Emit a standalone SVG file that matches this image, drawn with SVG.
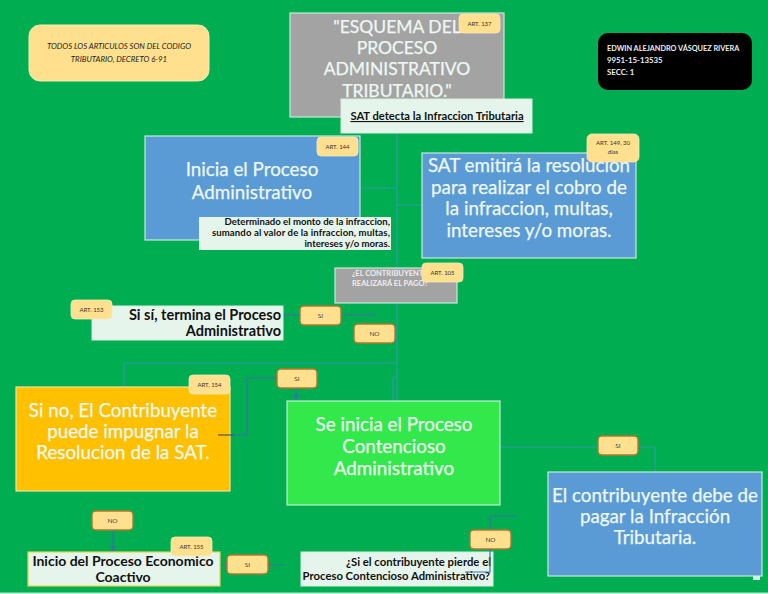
<svg xmlns="http://www.w3.org/2000/svg" width="768" height="594" viewBox="0 0 768 594">
<style>
text{font-family:"Lato","Open Sans","Liberation Sans",sans-serif}
.c{fill:none;stroke:#2e9aa8;stroke-width:1.2}
.b{fill:none;stroke:#3a72b0;stroke-width:1.2}
.box{stroke:#c5ecd8;stroke-width:1.2}
.w{fill:#eef8f3;font-size:18.800px;text-anchor:middle;stroke:#eef8f3;stroke-width:.25}
.lt{fill:#e6f5ec}
.k{fill:#111;font-weight:700}
.tag{fill:#ffe08e;stroke:#f5eab8;stroke-width:.8}
.tt{fill:#333;font-size:6px;text-anchor:middle}
.pill{fill:#ffe08e;stroke:#b5762a;stroke-width:1.4}
.pt{fill:#444;font-size:6.500px;text-anchor:middle}
</style>
<rect width="768" height="594" fill="#00ad50"/>
<g id="connectors">
<path class="c" d="M397 118V420M360 188H397M397 205H422"/>
<path class="c" d="M397 363H124V387M393 420V377H397"/>
<path class="c" d="M500 447H655V472"/>
<path class="b" d="M283 315H300M341 315H375"/>
<path class="b" d="M218 435H247V378H277M296 389V401"/>
<path class="b" d="M113 530V552M208 565H227M268 565H283"/>
<path class="b" d="M490 530V516H517"/>
<path fill="#3a72b0" d="M272 312l-6 3 6 3zM293 395h6l-3 5zM110 546h6l-3 5z"/>
</g>
<g id="nota">
<rect x="29" y="25" width="180" height="56" rx="11" fill="#ffe08e" stroke="#f5eab8"/>
<text font-size="7.800" font-style="italic" fill="#222" text-anchor="middle"><tspan x="119" y="49">TODOS LOS ARTICULOS SON DEL CODIGO</tspan><tspan x="119" y="62">TRIBUTARIO, DECRETO 6-91</tspan></text>
</g>
<g id="autor">
<rect x="598" y="33" width="154" height="57" rx="10" fill="#000"/>
<text font-size="7.800" font-weight="700" fill="#eee"><tspan x="607" y="51" font-size="7.300">EDWIN ALEJANDRO  VÁSQUEZ RIVERA</tspan><tspan x="607" y="63">9951-15-13535</tspan><tspan x="607" y="75">SECC: 1</tspan></text>
</g>
<g id="titulo">
<rect class="box" x="290" y="13" width="214" height="104" fill="#a3a3a3"/>
<text class="w" style="font-size:17.500px"><tspan x="397" y="33">"ESQUEMA DEL</tspan><tspan x="397" y="54">PROCESO</tspan><tspan x="397" y="75">ADMINISTRATIVO</tspan><tspan x="397" y="97">TRIBUTARIO."</tspan></text>
<rect class="tag" x="459" y="14" width="41" height="19" rx="4"/><text class="tt" x="479.500" y="25.500">ART. 137</text>
</g>
<g id="detecta">
<rect class="lt" x="341" y="99" width="191" height="34" stroke="#d5f0e0"/>
<text x="437" y="120" font-size="11.200" font-weight="700" fill="#111" text-anchor="middle" text-decoration="underline">SAT  detecta la Infraccion Tributaria</text>
</g>
<g id="inicia">
<rect class="box" x="145" y="136" width="215" height="104" fill="#5b9bd5"/>
<text class="w"><tspan x="252" y="176">Inicia el Proceso</tspan><tspan x="252" y="199">Administrativo</tspan></text>
<rect class="tag" x="317" y="137" width="41" height="19" rx="4"/><text class="tt" x="337.500" y="149">ART. 144</text>
<rect class="lt" x="199" y="217" width="192" height="33"/>
<text class="k" font-size="9.600" text-anchor="end"><tspan x="390" y="225">Determinado el monto de la infraccion,</tspan><tspan x="390" y="236" letter-spacing=".1">sumando al valor de la infraccion, multas,</tspan><tspan x="390" y="247">intereses y/o moras.</tspan></text>
</g>
<g id="emitira">
<rect class="box" x="422" y="153" width="214" height="105" fill="#5b9bd5"/>
<text class="w"><tspan x="529" y="172">SAT emitirá la resolucion</tspan><tspan x="529" y="194">para realizar el cobro de</tspan><tspan x="529" y="215">la infraccion, multas,</tspan><tspan x="529" y="237">intereses y/o moras.</tspan></text>
<rect class="tag" x="587" y="134" width="52" height="28" rx="5"/><text class="tt"><tspan x="613" y="145">ART. 149, 30</tspan><tspan x="613" y="154">dias</tspan></text>
</g>
<g id="pago">
<rect class="box" x="335" y="268" width="122" height="35" fill="#a3a3a3"/>
<text font-size="7.500" font-weight="700" fill="#eee"><tspan x="352" y="276">¿EL CONTRIBUYENTE</tspan><tspan x="352" y="286">REALIZARÁ EL PAGO?</tspan></text>
<rect class="tag" x="422" y="263" width="41" height="19" rx="4"/><text class="tt" x="442.500" y="274.500">ART. 105</text>
</g>
<g id="termina">
<rect class="lt" x="92" y="306" width="191" height="34" stroke="#d5f0e0"/>
<text class="k" font-size="14.500" text-anchor="end"><tspan x="281" y="320">Si sí, termina el Proceso</tspan><tspan x="281" y="336">Administrativo</tspan></text>
<rect class="tag" x="71" y="300" width="41" height="19" rx="4"/><text class="tt" x="91.500" y="311.500">ART. 153</text>
</g>
<g id="si1"><rect class="pill" x="300" y="306" width="41" height="19" rx="4"/><text class="pt" x="320.500" y="317.500">SI</text></g>
<g id="no1"><rect class="pill" x="354" y="324" width="41" height="19" rx="4"/><text class="pt" x="374.500" y="335.500">NO</text></g>
<g id="impugnar">
<rect x="16" y="387" width="214" height="104" fill="#ffc000" stroke="#f5e3a0" stroke-width="1.200"/>
<text class="w"><tspan x="123" y="417">Si no, El Contribuyente</tspan><tspan x="123" y="438">puede impugnar la</tspan><tspan x="123" y="459">Resolucion de la SAT.</tspan></text>
<rect class="tag" x="189" y="375" width="41" height="19" rx="4"/><text class="tt" x="209.500" y="386.500">ART. 154</text>
<path d="M218 435H234" stroke="#555" stroke-width="1.200"/>
</g>
<g id="si2"><rect class="pill" x="277" y="369" width="40" height="19" rx="4"/><text class="pt" x="297" y="380.500">SI</text></g>
<g id="contencioso">
<rect class="box" x="287" y="401" width="213" height="104" fill="#33e84a"/>
<text class="w"><tspan x="394" y="431">Se inicia el Proceso</tspan><tspan x="394" y="453">Contencioso</tspan><tspan x="394" y="475">Administrativo</tspan></text>
</g>
<g id="si3"><rect class="pill" x="598" y="436" width="40" height="19" rx="4"/><text class="pt" x="618" y="447.500">SI</text></g>
<g id="pagar">
<rect class="box" x="548" y="472" width="214" height="104" fill="#5b9bd5"/>
<text class="w"><tspan x="655" y="502">El contribuyente debe de</tspan><tspan x="655" y="523">pagar la Infracción</tspan><tspan x="655" y="544">Tributaria.</tspan></text>
<rect x="753" y="576" width="7" height="4" fill="#d5f0e0"/>
</g>
<g id="no2"><rect class="pill" x="92" y="511" width="41" height="19" rx="4"/><text class="pt" x="112.500" y="522.500">NO</text></g>
<g id="coactivo">
<rect class="lt" x="28" y="552" width="192" height="34" stroke="#e8d24a" stroke-width="1.200"/>
<text class="k" font-size="14" text-anchor="middle"><tspan x="123" y="566">Inicio del Proceso Economico</tspan><tspan x="123" y="582">Coactivo</tspan></text>
<rect class="tag" x="171" y="537" width="41" height="19" rx="4"/><text class="tt" x="191.500" y="548.500">ART. 155</text>
</g>
<g id="si4"><rect class="pill" x="227" y="555" width="41" height="19" rx="4"/><text class="pt" x="247.500" y="566.500">SI</text></g>
<g id="pierde">
<rect class="lt" x="301" y="552" width="192" height="34" stroke="#d5f0e0"/>
<text font-size="11.300" fill="#111" text-anchor="end" font-weight="700"><tspan x="491" y="566">¿Si el contribuyente pierde el</tspan><tspan x="490" y="580">Proceso Contencioso Administrativo?</tspan></text>
<path class="b" d="M490 549V572H465"/>
</g>
<g id="no3"><rect class="pill" x="470" y="530" width="41" height="19" rx="4"/><text class="pt" x="490.500" y="541.500">NO</text></g>
<rect y="592.500" width="768" height="1.500" fill="#b8efd4"/>
</svg>
